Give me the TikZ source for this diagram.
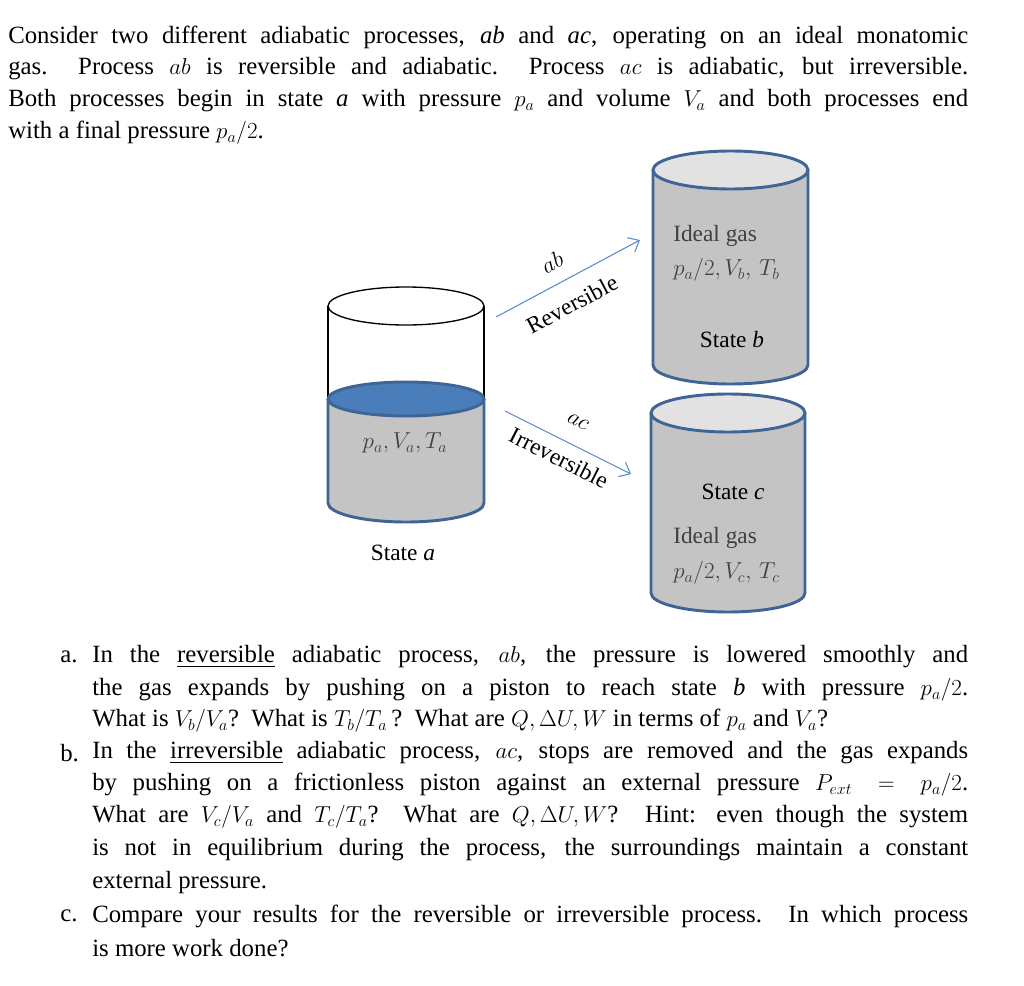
\documentclass[tikz,border=0pt]{standalone}
\usepackage{fontspec}
\setmainfont{Liberation Serif}
\usepackage{amsmath}
\usetikzlibrary{arrows.meta}
\begin{document}
\begin{tikzpicture}[x=0.75pt,y=-0.75pt,
  txt/.style={anchor=west,inner sep=0pt,font=\fontsize{18.6}{22}\selectfont},
  lbl/.style={inner sep=0pt,font=\fontsize{17.5}{21}\selectfont},
  cyl/.style={draw=cylblue,line width=2.2pt,fill=cylgray},
  arr/.style={draw=arrblue,line width=0.8pt,-{Straight Barb[length=7pt,width=12pt]}}]
\definecolor{cylblue}{HTML}{3E6596}
\definecolor{cylgray}{HTML}{C4C4C4}
\definecolor{toplight}{HTML}{E2E2E2}
\definecolor{water}{HTML}{4A7EBB}
\definecolor{arrblue}{HTML}{5B8BCB}
\definecolor{gtxt}{HTML}{404040}
\useasboundingbox (0,0) rectangle (1024,985);
\fill[white] (0,0) rectangle (1024,985);
% intro lines
\node[txt] (l1) at (8,37) {\makebox[720pt][s]{Consider two different adiabatic processes, \textit{ab} and \textit{ac}, operating on an ideal monatomic}};
\node[txt] (l2) at (8,69) {\makebox[720pt][s]{gas.\ \ Process $ab$ is reversible and adiabatic.\ \ Process $ac$ is adiabatic, but irreversible.}};
\node[txt] (l3) at (8,101) {\makebox[720pt][s]{Both processes begin in state \textit{a} with pressure $p_a$ and volume $V_a$ and both processes end}};
\node[txt] (l4) at (8,133) {with a final pressure $p_a/2$.};
% cylinder a
\draw[black,line width=1pt,fill=white] (328,306) -- (328,399) -- (484,399) -- (484,306);
\draw[black,line width=1pt] (406,306) ellipse (78 and 19);
\draw[cyl] (328,399) -- (328,503) arc[start angle=180,end angle=0,x radius=78,y radius=19] -- (484,399);
\draw[cyl,fill=water] (406,399) ellipse (78 and 17);
\node[lbl,text=gtxt] (pa) at (405,443) {$p_a,V_a,T_a$};
\node[lbl] (sa) at (403,553) {State \textit{a}};
% cylinder b
\draw[cyl] (653,170) -- (653,365) arc[start angle=180,end angle=0,x radius=77.5,y radius=19] -- (808,170);
\draw[cyl,fill=toplight] (730.5,170) ellipse (77.5 and 19);
\begin{scope}
\clip (653,180) rectangle (806,360);
\node[lbl,text=gtxt,anchor=west] (ib) at (673,236) {Ideal gas};
\node[lbl,text=gtxt,anchor=west] (vb) at (673,270) {$p_a/2,V_b,\,T_b$};
\end{scope}
\node[lbl] (sb) at (732,340) {State \textit{b}};
% cylinder c
\draw[cyl] (651,413) -- (651,593) arc[start angle=180,end angle=0,x radius=77,y radius=19] -- (805,413);
\draw[cyl,fill=toplight] (728,413) ellipse (77 and 19);
\node[lbl] (sc) at (733,492) {State \textit{c}};
\node[lbl,text=gtxt,anchor=west] (ic) at (673,538) {Ideal gas};
\begin{scope}
\clip (653,520) rectangle (803,600);
\node[lbl,text=gtxt,anchor=west] (vc) at (673,573) {$p_a/2,V_c,\,T_c$};
\end{scope}
% arrows
\coordinate (abs) at (496,317); \coordinate (abe) at (640,240);
\coordinate (acs) at (505,411); \coordinate (ace) at (631,474);
\draw[arr] (abs) -- (abe);
\draw[arr] (acs) -- (ace);
\node[lbl,rotate=28] (tab) at (552,262) {$ab$};
\node[lbl,rotate=28] (rab) at (572,304) {Reversible};
\node[lbl,rotate=-27] (tac) at (578,422) {$ac$};
\node[lbl,rotate=-27] (rac) at (559,458) {Irreversible};
% questions
\node[txt] (qa) at (60,657) {a.};
\node[txt] (a1) at (92,657) {\makebox[657pt][s]{In the \underline{reversible} adiabatic process, $ab$, the pressure is lowered smoothly and}};
\node[txt] (a2) at (92,690) {\makebox[657pt][s]{the gas expands by pushing on a piston to reach state \textit{b} with pressure $p_a/2$.}};
\node[txt] (a3) at (92,721) {What is $V_b/V_a$?\ \ What is $T_b/T_a$\,?\ \ What are $Q,\Delta U,W$ in terms of $p_a$ and $V_a$?};
\node[txt] (qb) at (60,753) {b.};
\node[txt] (b1) at (92,753) {\makebox[657pt][s]{In the \underline{irreversible} adiabatic process, $ac$, stops are removed and the gas expands}};
\node[txt] (b2) at (92,785) {\makebox[657pt][s]{by pushing on a frictionless piston against an external pressure $P_{ext}=p_a/2$.}};
\node[txt] (b3) at (92,817) {\makebox[657pt][s]{What are $V_c/V_a$ and $T_c/T_a$?\ \ What are $Q,\Delta U,W$? Hint: even though the system}};
\node[txt] (b4) at (92,850) {\makebox[657pt][s]{is not in equilibrium during the process, the surroundings maintain a constant}};
\node[txt] (b5) at (92,883) {external pressure.};
\node[txt] (qc) at (60,916) {c.};
\node[txt] (c1) at (92,916) {\makebox[657pt][s]{Compare your results for the reversible or irreversible process. In which process}};
\node[txt] (c2) at (92,948) {is more work done?};
\end{tikzpicture}
\end{document}
